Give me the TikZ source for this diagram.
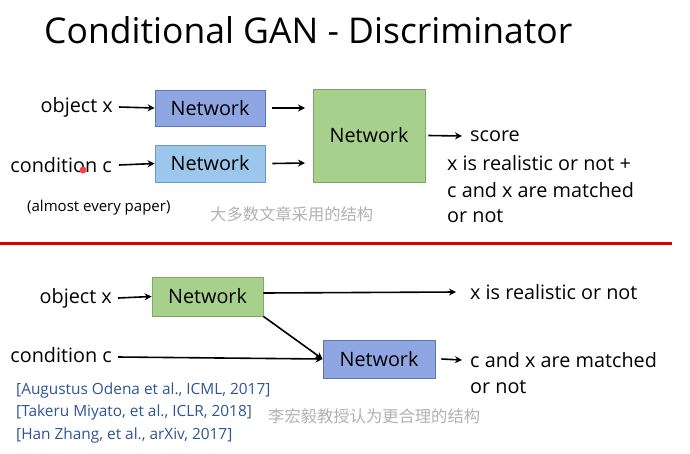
\documentclass[tikz,border=0pt]{standalone}
\usepackage{fontspec}
\setmainfont{Open Sans}
\newfontfamily\cjk{Noto Sans CJK SC}
\usetikzlibrary{arrows.meta}
\definecolor{bfill}{HTML}{8FA6E2}
\definecolor{bdraw}{HTML}{5A74B8}
\definecolor{lbfill}{HTML}{9DC6EC}
\definecolor{lbdraw}{HTML}{6A9ACB}
\definecolor{gfill}{HTML}{A8D08D}
\definecolor{gdraw}{HTML}{7EA862}
\definecolor{refblue}{HTML}{2F5597}
\begin{document}
\begin{tikzpicture}[x=1pt,y=-1pt,
  txt/.style={font=\fontsize{19.8}{21}\selectfont,inner sep=0},
  box/.style={draw,line width=0.8pt,font=\fontsize{19.8}{21}\selectfont,inner sep=0},
  arr/.style={-{Stealth[length=7pt,width=7pt]},line width=1.6pt},
  cn/.style={font=\cjk\fontsize{16.3}{18}\selectfont,text=gray!60,inner sep=0},
  ref/.style={font=\fontsize{15.4}{17}\selectfont,text=refblue,anchor=west,inner sep=0}]
\useasboundingbox[fill=white] (0,0) rectangle (690,453);
\node[anchor=west,font=\fontsize{35.5}{40}\selectfont,inner sep=0] (title) at (44,30) {Conditional GAN - Discriminator};
% top
\node[txt,anchor=east] (ox1) at (113,107) {object x};
\node[box,fill=bfill,draw=bdraw,minimum width=110,minimum height=36] (n1) at (210,108) {Network};
\node[txt,anchor=east] (cc1) at (112,165) {condition c};
\node[box,fill=lbfill,draw=lbdraw,minimum width=110,minimum height=37] (n2) at (210,163.5) {Network};
\node[box,fill=gfill,draw=gdraw,minimum width=112,minimum height=93] (n3) at (369,135.5) {Network};
\node[font=\fontsize{15}{16}\selectfont,anchor=west,inner sep=0] (ae) at (27,208) {(almost every paper)};
\fill[red!75] (83,170) circle (3.5);
\node[txt,anchor=west] (score) at (470,136) {score};
\node[txt,anchor=west] (t1) at (447,163) {x is realistic or not +};
\node[txt,anchor=west] (t2) at (447,190) {c and x are matched};
\node[txt,anchor=west] (t3) at (447,216) {or not};
\node[cn,anchor=west] (cn1) at (210,214) {大多数文章采用的结构};
\draw[arr] (ox1.east)++(6,0) -- (n1.west);
\draw[arr] (cc1.east)++(7,0) -- (n2.west);
\draw[arr] (n1.east)++(7,0) -- (305,108);
\draw[arr] (n2.east)++(7,0) -- (305,163);
\draw[arr] (n3.east)++(3,0) -- (462,136);
\draw[red!85!black,line width=3pt] (0,243) -- (672,243);
% bottom
\node[txt,anchor=east] (ox2) at (112,298) {object x};
\node[box,fill=gfill,draw=gdraw,minimum width=111,minimum height=39] (n4) at (207.5,296.5) {Network};
\node[txt,anchor=east] (cc2) at (112,355) {condition c};
\node[box,fill=bfill,draw=bdraw,minimum width=112,minimum height=38] (n5) at (379,359) {Network};
\node[txt,anchor=west] (r1) at (470,292) {x is realistic or not};
\node[txt,anchor=west] (r2) at (470,360) {c and x are matched};
\node[txt,anchor=west] (r3) at (470,387) {or not};
\draw[arr] (ox2.east)++(6,0) -- (n4.west);
\draw[arr] (n4.east |- 0,293) -- (r1.west -| 456,0);
\draw[arr] (n4.south east) -- (n5.west);
\draw[arr] (cc2.east)++(6,2) -- (n5.west);
\draw[arr] (n5.east)++(6,0) -- (462,360);
\node[ref] (f1) at (16,390) {[Augustus Odena et al., ICML, 2017]};
\node[ref] (f2) at (16,412) {[Takeru Miyato, et al., ICLR, 2018]};
\node[ref] (f3) at (16,435) {[Han Zhang, et al., arXiv, 2017]};
\node[cn,anchor=west] (cn2) at (268,416) {李宏毅教授认为更合理的结构};
\end{tikzpicture}
\end{document}
